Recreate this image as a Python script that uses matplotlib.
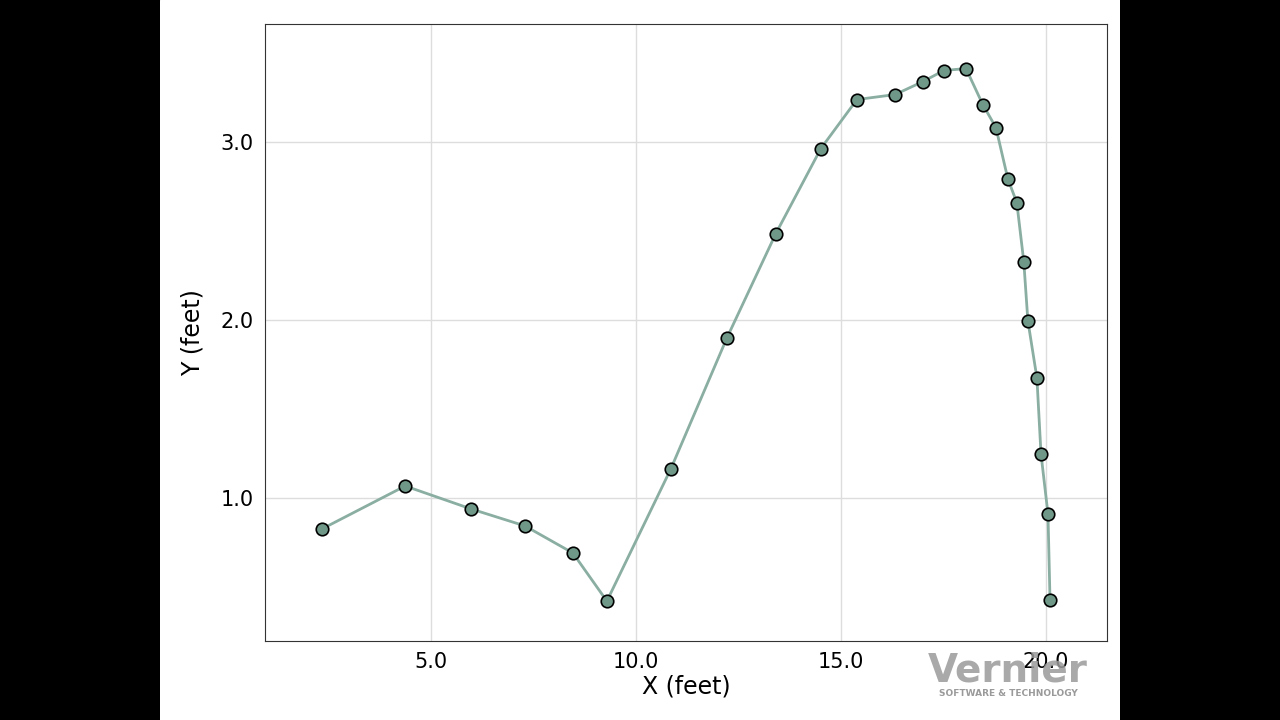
import matplotlib
matplotlib.use('Agg')
import matplotlib.pyplot as plt

# Data
x_ft = [2.34, 4.37, 5.98, 7.29, 8.46, 9.29, 10.85, 12.22, 13.41, 14.51, 15.39, 16.32,
        17.0, 17.51, 18.05, 18.46, 18.78, 19.07, 19.29, 19.46, 19.56, 19.78, 19.88, 20.05, 20.10]
y_ft = [0.826, 1.067, 0.938, 0.843, 0.691, 0.421, 1.163, 1.899, 2.483, 2.961, 3.236, 3.264,
        3.337, 3.399, 3.410, 3.208, 3.079, 2.792, 2.657, 2.326, 1.994, 1.674, 1.247, 0.910, 0.427]
x_ticks = [5.0, 10.0, 15.0, 20.0]
y_ticks = [1.0, 2.0, 3.0]

fig = plt.figure(figsize=(12.8, 7.2), dpi=100, facecolor='black')

# white page between the black side bars
bg = fig.add_axes([160 / 1280, 0, 960 / 1280, 1], zorder=-1)
bg.set_facecolor('white')
bg.set_axis_off()
bg.add_patch(plt.Rectangle((0, 0), 1, 1, transform=bg.transAxes, color='white'))

ax = fig.add_axes([265 / 1280, 1 - 641 / 720, 842 / 1280, 617 / 720])
ax.plot(x_ft, y_ft, color='#8aaea2', lw=2, marker='o', ms=9,
        markerfacecolor='#6f9888', markeredgecolor='black', markeredgewidth=1.2)

ax.set_xlim(0.95, 21.49)
ax.set_ylim(0.197, 3.66)
ax.set_xticks(x_ticks)
ax.set_yticks(y_ticks)
ax.set_xticklabels([f'{v:.1f}' for v in x_ticks], fontsize=15)
ax.set_yticklabels([f'{v:.1f}' for v in y_ticks], fontsize=15)
ax.tick_params(length=0, pad=8)
ax.grid(True, color='#dddddd', lw=1)
ax.set_axisbelow(True)
for s in ax.spines.values():
    s.set_color('#333333')

ax.set_xlabel('X (feet)', fontsize=17, labelpad=2)
ax.set_ylabel('Y (feet)', fontsize=17, labelpad=12)

# Vernier logo
fig.text(1008 / 1280, 1 - 670 / 720, 'Vernier', fontsize=28, fontweight='bold',
         color='#9a9a9a', ha='center', va='center', alpha=0.85)
fig.text(1008 / 1280, 1 - 694 / 720, 'SOFTWARE & TECHNOLOGY', fontsize=6.5, fontweight='bold',
         color='#9a9a9a', ha='center', va='center')

fig.savefig('out.png', dpi=100, facecolor='black')
